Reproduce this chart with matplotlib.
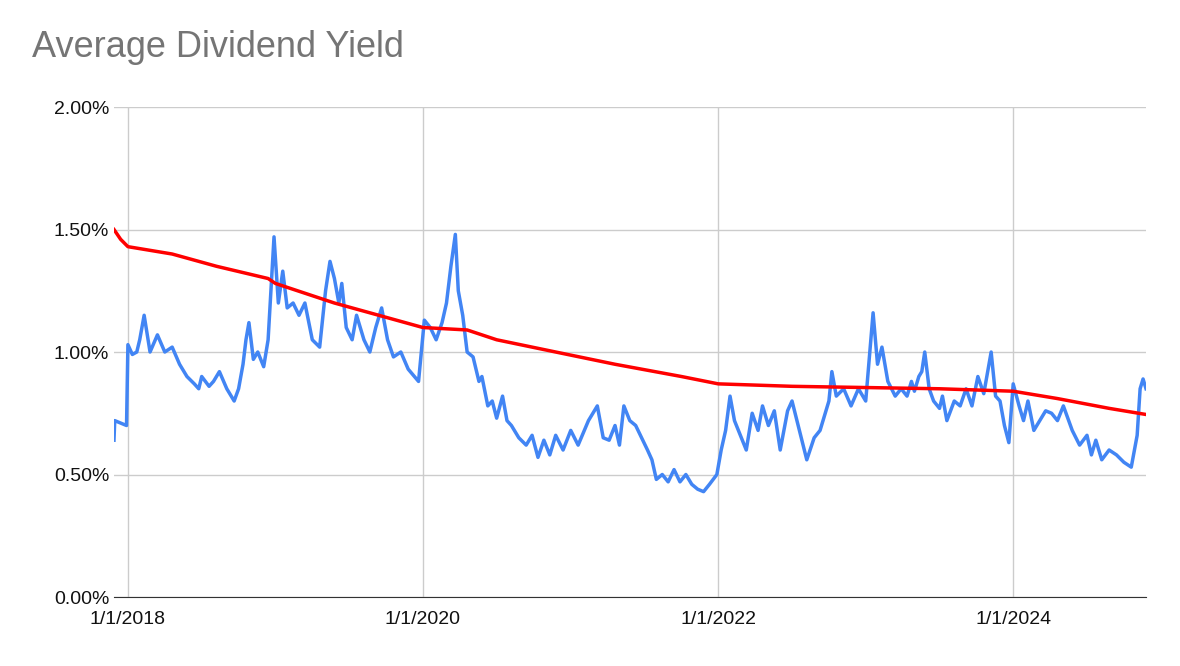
import matplotlib
matplotlib.use("Agg")
import matplotlib.pyplot as plt
import matplotlib.dates as mdates
from matplotlib.ticker import FuncFormatter
import datetime as dt

plt.rcParams['font.family'] = ['Liberation Sans', 'DejaVu Sans']

blue_t = [2017.905,2017.91,2017.95,2017.99,2018.0,2018.03,2018.06,2018.08,2018.11,2018.15,2018.2,2018.25,2018.3,2018.35,2018.4,2018.45,2018.48,2018.5,2018.55,2018.58,2018.62,2018.67,2018.72,2018.75,2018.78,2018.8,2018.82,2018.85,2018.88,2018.92,2018.95,2018.99,2019.02,2019.05,2019.08,2019.12,2019.16,2019.2,2019.25,2019.3,2019.34,2019.37,2019.4,2019.43,2019.45,2019.48,2019.52,2019.55,2019.6,2019.64,2019.68,2019.72,2019.76,2019.8,2019.85,2019.9,2019.97,2020.01,2020.05,2020.09,2020.13,2020.16,2020.19,2020.22,2020.24,2020.27,2020.3,2020.34,2020.38,2020.4,2020.44,2020.47,2020.5,2020.54,2020.57,2020.6,2020.65,2020.7,2020.74,2020.78,2020.82,2020.86,2020.9,2020.95,2021.0,2021.05,2021.12,2021.18,2021.22,2021.26,2021.3,2021.33,2021.36,2021.4,2021.44,2021.48,2021.52,2021.55,2021.58,2021.62,2021.66,2021.7,2021.74,2021.78,2021.82,2021.86,2021.9,2021.94,2021.99,2022.02,2022.05,2022.08,2022.11,2022.15,2022.19,2022.23,2022.27,2022.3,2022.34,2022.38,2022.42,2022.47,2022.5,2022.55,2022.6,2022.65,2022.69,2022.73,2022.75,2022.77,2022.8,2022.85,2022.9,2022.95,2023.0,2023.05,2023.08,2023.11,2023.15,2023.2,2023.24,2023.28,2023.31,2023.33,2023.36,2023.38,2023.4,2023.43,2023.46,2023.5,2023.52,2023.55,2023.6,2023.64,2023.68,2023.72,2023.76,2023.8,2023.85,2023.88,2023.91,2023.94,2023.97,2024.0,2024.04,2024.07,2024.1,2024.14,2024.18,2024.22,2024.26,2024.3,2024.34,2024.4,2024.45,2024.5,2024.53,2024.56,2024.6,2024.65,2024.7,2024.75,2024.8,2024.84,2024.86,2024.88,2024.9]
blue_v = [0.64,0.72,0.71,0.70,1.03,0.99,1.0,1.05,1.15,1.0,1.07,1.0,1.02,0.95,0.9,0.87,0.85,0.9,0.86,0.88,0.92,0.85,0.80,0.85,0.95,1.05,1.12,0.97,1.0,0.94,1.05,1.47,1.2,1.33,1.18,1.2,1.15,1.2,1.05,1.02,1.25,1.37,1.3,1.2,1.28,1.1,1.05,1.15,1.05,1.0,1.1,1.18,1.05,0.98,1.0,0.93,0.88,1.13,1.1,1.05,1.12,1.2,1.35,1.48,1.25,1.15,1.0,0.98,0.88,0.9,0.78,0.8,0.73,0.82,0.72,0.7,0.65,0.62,0.66,0.57,0.64,0.58,0.66,0.6,0.68,0.62,0.72,0.78,0.65,0.64,0.7,0.62,0.78,0.72,0.7,0.65,0.6,0.56,0.48,0.5,0.47,0.52,0.47,0.5,0.46,0.44,0.43,0.46,0.5,0.6,0.68,0.82,0.72,0.66,0.6,0.75,0.68,0.78,0.7,0.76,0.6,0.76,0.8,0.68,0.56,0.65,0.68,0.76,0.8,0.92,0.82,0.85,0.78,0.85,0.8,1.16,0.95,1.02,0.88,0.82,0.85,0.82,0.88,0.84,0.9,0.92,1.0,0.85,0.8,0.77,0.82,0.72,0.8,0.78,0.85,0.78,0.9,0.83,1.0,0.82,0.8,0.7,0.63,0.87,0.78,0.72,0.8,0.68,0.72,0.76,0.75,0.72,0.78,0.68,0.62,0.66,0.58,0.64,0.56,0.6,0.58,0.55,0.53,0.66,0.85,0.89,0.85]

red_t = [2017.905,2017.95,2018.0,2018.3,2018.6,2018.95,2019.0,2019.4,2019.7,2020.0,2020.3,2020.5,2020.9,2021.3,2021.75,2022.0,2022.5,2023.0,2023.5,2024.0,2024.3,2024.65,2024.9]
red_v = [1.50,1.46,1.43,1.40,1.35,1.30,1.28,1.20,1.15,1.10,1.09,1.05,1.00,0.95,0.90,0.87,0.86,0.855,0.85,0.84,0.81,0.77,0.745]

y_ticks = [0, 0.5, 1.0, 1.5, 2.0]
x_tick_years = [2018, 2020, 2022, 2024]

def to_date(y):
    yr = int(y)
    start = dt.datetime(yr, 1, 1)
    return start + dt.timedelta(days=(y - yr) * 365.25)

fig = plt.figure(figsize=(11.8, 6.66), dpi=100)
ax = fig.add_axes([0.0966, 0.1036, 0.8746, 0.7357])
ax.plot([to_date(t) for t in blue_t], blue_v, color='#4285f4', lw=2.5, zorder=3)
ax.plot([to_date(t) for t in red_t], red_v, color='#ff0000', lw=2.5, zorder=4)

ax.set_xlim(to_date(2017.905), to_date(2024.9))
ax.set_ylim(0, 2.0)
ax.set_yticks(y_ticks)
ax.yaxis.set_major_formatter(FuncFormatter(lambda v, p: f"{v:.2f}%"))
ax.set_xticks([dt.datetime(y, 1, 1) for y in x_tick_years])
ax.set_xticklabels([f"1/1/{y}" for y in x_tick_years])
ax.grid(True, color='#cccccc', lw=1)
ax.set_axisbelow(True)
for s in ['top', 'right', 'left']:
    ax.spines[s].set_visible(False)
ax.spines['bottom'].set_color('#333333')
ax.tick_params(length=0, labelsize=14, colors='#111111')
ax.tick_params(axis='x', pad=10)
fig.text(0.027, 0.915, "Average Dividend Yield", fontsize=26, color='#757575')
fig.savefig("out.png", dpi=100)
